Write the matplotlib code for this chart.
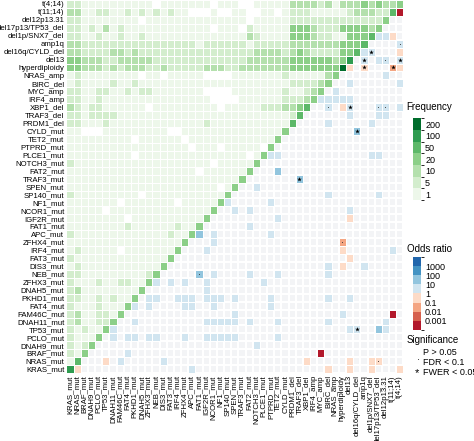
import numpy as np
import matplotlib
matplotlib.use("Agg")
import matplotlib.pyplot as plt
from matplotlib.colors import ListedColormap, BoundaryNorm

plt.rcParams['font.family'] = ['Liberation Sans', 'DejaVu Sans']

features = ["KRAS_mut","NRAS_mut","BRAF_mut","DNAH9_mut","PCLO_mut","TP53_mut","DNAH11_mut",
 "FAM46C_mut","FAT4_mut","PKHD1_mut","DNAH5_mut","ZFHX3_mut","NEB_mut","DIS3_mut","FAT3_mut",
 "IRF4_mut","ZFHX4_mut","APC_mut","FAT1_mut","IGF2R_mut","NCOR1_mut","NF1_mut","SP140_mut",
 "SPEN_mut","TRAF3_mut","FAT2_mut","NOTCH3_mut","PLCE1_mut","PTPRD_mut","TET2_mut","CYLD_mut",
 "PRDM1_del","TRAF3_del","XBP1_del","IRF4_amp","MYC_amp","BIRC_del","NRAS_amp","hyperdiploidy",
 "del13","del16q/CYLD_del","amp1q","del1p/SNX7_del","del17p13/TP53_del","del12p13.31",
 "t(11;14)","t(4;14)"]

# co-occurrence frequency level per row (columns 0..row-1); 0 none,1:1-4,2:5-9,3:10-19,4:20-49,5:50-99,6:100-199,7:200+
freq_rows = {
 46: "2211111111110111111101110011111" + "333323133343433",
 45: "3311221121212121100010011001101" + "22211111233322",
 44: "2211111111011111111111111011111" + "2222222222222",
 43: "2212131211111111111101110211111" + "444322244443",
 42: "2211211211211111111111111321111" + "44432211444",
 41: "3322222222222222221222222122222" + "3333333444",
 40: "3322223323222222222222222233332" + "343222244",
 39: "4433322333332222222222222333333" + "44444434",
 38: "4433323233322322222333223333333" + "4444444",
 37: "1211111111011011111000011111112" + "111113",
 36: "1211112112111111111111111111111" + "22223",
 35: "2211221121221111111000011111112" + "1123",
 34: "2211211111111111111100001111112" + "223",
 33: "3212211111101111111110111112223" + "34",
 32: "2212222111111111111111111111111" + "2",
 31: "2211121111111111111211111111111",
 30: "110001111111110011111111111111",
 29: "11111111101111110111111111111",
 28: "1111111111111111101110111110",
 27: "111111111011111111111111101",
 26: "21111111111111111111011111",
 25: "1111111111111111110111111",
 24: "111111111111111111111111",
 23: "11111111111111111111101",
 22: "2111111111011111111111",
 21: "111111101111111011111",
 20: "11111011111111111111",
 19: "1111111101111111111",
 18: "111111112111111211",
 17: "21111111111111211",
 16: "1111111111111111",
 15: "121111101111111",
 14: "21111111111111",
 13: "1211111111111",
 12: "221111111112",
 11: "21112112211",
 10: "2311111111",
 9: "221121211",
 8: "21112111",
 7: "2311221",
 6: "231122",
 5: "21211",
 4: "2111",
 3: "212",
 2: "21",
 1: "1",
 0: "",
}
diag_levels = [6,5,4,4,4,4,4,4,4,4,4,4,4,4,4,4,4,4,4,4,4,4,4,4,4,4,4,4,4,4,4,
               5,5,5,4,4,4,4,7,6,5,5,5,4,4,5,4]

# odds ratio cells (row index, column index, log10 OR, significance 0/1 dot/2 star)
or_row = [45,38,38,38,38,39,39,39,39,40,40,40,41,42,42,42,37,36,36,35,34,34,34,34,34,
          33,33,33,33,33,33,32,32,32,31,31,30,27,27,27,27,25,24,23,22,22,21,21,20,20,20,
          19,19,18,17,17,17,16,16,15,15,15,14,13,13,13,12,12,12,12,12,11,11,11,11,11,10,
          9,9,9,9,9,9,9,9,9,9,9,9,8,8,8,8,8,8,7,7,7,6,6,6,6,6,6,6,6,6,6,5,5,5,5,5,
          4,4,4,4,4,4,4,4,4,4,4,4,3,2,2,1,1,1,1,1,1,1,0,0,0,0,0,0]
or_col = [46,39,41,45,46,41,43,44,46,41,42,46,46,43,44,45,44,39,46,37,35,36,37,38,39,
          36,38,39,43,44,46,39,43,44,36,42,40,28,29,42,43,29,32,26,36,43,22,28,23,25,39,
          29,39,25,18,20,28,20,38,19,38,45,39,36,38,41,18,20,25,29,36,12,14,16,19,27,19,
          11,12,15,16,17,19,20,21,23,28,36,39,9,11,16,17,20,28,23,38,45,9,19,20,21,22,23,25,29,36,44,6,39,40,43,44,
          6,8,9,11,12,16,19,20,21,22,23,29,26,8,35,5,7,13,33,39,42,43,1,17,36,39,42,46]
or_val = [-3.5,-0.5,-0.5,-1.5,-0.5,0.5,0.5,0.5,0.5,0.5,0.5,-0.5,0.5,0.5,0.5,-0.5,0.5,0.5,0.5,0.5,0.5,0.5,0.5,0.5,0.5,
          0.5,-0.5,0.5,0.5,0.5,0.5,0.5,0.5,0.5,0.5,0.5,1.5,0.5,0.5,0.5,0.5,1.5,1.5,0.5,0.5,0.5,0.5,0.5,0.5,0.5,0.5,
          0.5,-0.5,0.5,1.5,0.5,0.5,0.5,-1.5,0.5,-0.5,0.5,-0.5,0.5,-0.5,0.5,1.5,0.5,0.5,0.5,0.5,0.5,0.5,0.5,0.5,0.5,0.5,
          0.5,0.5,0.5,0.5,0.5,0.5,0.5,0.5,0.5,0.5,0.5,0.5,0.5,0.5,0.5,0.5,0.5,0.5,0.5,0.5,-3.5,0.5,0.5,0.5,0.5,0.5,0.5,0.5,0.5,0.5,0.5,0.5,0.5,0.5,1.5,0.5,
          0.5,0.5,0.5,0.5,0.5,0.5,0.5,0.5,0.5,0.5,0.5,0.5,0.5,0.5,-3.5,-0.5,0.5,0.5,-0.5,-0.5,-0.5,-0.5,-0.5,0.5,-0.5,-0.5,-0.5,-0.5]
or_sig = [0,0,2,2,0,2,0,1,2,0,2,0,1,0,0,0,0,0,0,0,0,0,0,0,0,
          1,0,2,1,1,0,0,0,0,0,0,2,0,0,0,0,0,2,0,0,0,0,0,0,0,0,
          0,0,0,0,0,0,0,1,0,0,0,0,0,0,0,1,0,0,0,0,0,0,0,0,0,0,
          0,0,0,0,0,0,0,0,0,0,0,0,0,0,0,0,0,0,0,0,0,0,0,0,0,0,0,0,0,0,0,0,0,2,0,
          0,0,0,0,0,0,0,0,0,0,0,0,0,0,0,0,0,0,0,0,0,0,1,0,0,0,0,0]

n = len(features)
freq = np.full((n, n), np.nan)
for r, s in freq_rows.items():
    for c, ch in enumerate(s):
        freq[r, c] = int(ch)
    freq[r, r] = diag_levels[r]
orm = np.full((n, n), np.nan)
bg = np.full((n, n), np.nan)
for r in range(n):
    for c in range(r + 1, n):
        bg[r, c] = 1
for r, c, v in zip(or_row, or_col, or_val):
    orm[r, c] = v

fig = plt.figure(figsize=(4.74, 4.41), dpi=100)
ax = fig.add_axes([0.140, 0.154, 0.711, 0.846])
gcols = ['#ffffff', '#edf7ea', '#d3edcd', '#b4e0ad', '#8ccf88', '#5db869', '#2f9c50', '#006d2c']
gcmap = ListedColormap(gcols)
gnorm = BoundaryNorm(np.arange(-0.5, 8.5, 1), 8)
ocols = ['#b2182b', '#d6604d', '#f4a582', '#fddbc7', '#d1e5f0', '#92c5de', '#4393c3', '#2166ac']
ocmap = ListedColormap(ocols)
onorm = BoundaryNorm(np.arange(-4, 5, 1), 8)
X = np.arange(n + 1) - 0.5
ax.pcolormesh(X, X, bg, cmap=ListedColormap(['#f3f4f6']), edgecolor='white', linewidth=0.3)
ax.pcolormesh(X, X, freq, cmap=gcmap, norm=gnorm, edgecolor='white', linewidth=0.5)
ax.pcolormesh(X, X, orm, cmap=ocmap, norm=onorm, edgecolor='white', linewidth=0.5)
for r, c, s in zip(or_row, or_col, or_sig):
    if s == 2:
        ax.plot(c, r, marker='*', color='black', ms=3.5, mew=0)
    elif s == 1:
        ax.plot(c, r, marker='.', color='#333333', ms=1.5, mew=0)
ax.set_xlim(-0.5, n - 0.5)
ax.set_ylim(-0.5, n - 0.5)
ax.set_xticks(range(n))
ax.set_xticklabels(features, rotation=90, fontsize=5.6)
ax.set_yticks(range(n))
ax.set_yticklabels(features, fontsize=5.6)
ax.tick_params(length=0, pad=1.5)
for s in ax.spines.values():
    s.set_visible(False)

# Frequency legend
cax1 = fig.add_axes([0.871, 0.546, 0.017, 0.186])
fb = np.arange(0.5, 8.5, 1)
cb1 = matplotlib.colorbar.ColorbarBase(cax1, cmap=ListedColormap(gcols[1:]),
        norm=BoundaryNorm(fb, 7), boundaries=fb, ticks=np.arange(1, 8))
cb1.set_ticklabels(['1', '5', '10', '20', '50', '100', '200'])
cb1.outline.set_visible(False)
cax1.tick_params(labelsize=6.5, length=0, pad=3)
fig.text(0.858, 0.750, 'Frequency', fontsize=7)

cax2 = fig.add_axes([0.871, 0.252, 0.017, 0.165])
cb2 = matplotlib.colorbar.ColorbarBase(cax2, cmap=ocmap, norm=onorm,
        boundaries=np.arange(-4, 5, 1), ticks=np.arange(-3, 4))
cb2.set_ticklabels(['0.001', '0.01', '0.1', '1', '10', '100', '1000'])
cb2.outline.set_visible(False)
cax2.tick_params(labelsize=6.5, length=0, pad=3)
fig.text(0.858, 0.428, 'Odds ratio', fontsize=7)

fig.text(0.858, 0.222, 'Significance', fontsize=7)
fig.text(0.893, 0.195, 'P > 0.05', fontsize=6.5)
fig.text(0.893, 0.172, 'FDR < 0.1', fontsize=6.5)
fig.text(0.893, 0.149, 'FWER < 0.05', fontsize=6.5)
fig.text(0.880, 0.177, '·', fontsize=7)
fig.text(0.876, 0.147, '*', fontsize=8)

fig.savefig('out.png', dpi=100)
